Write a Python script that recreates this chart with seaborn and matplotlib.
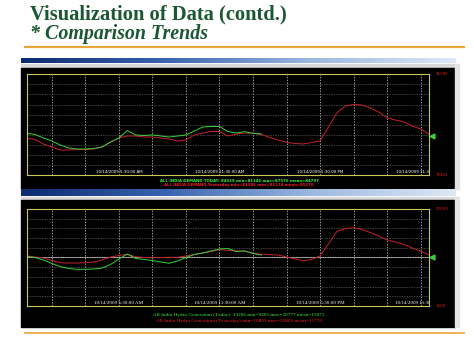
import numpy as np
import pandas as pd
import matplotlib.pyplot as plt
import seaborn as sns
from matplotlib.patches import Rectangle
from matplotlib.colors import LinearSegmentedColormap

W, H = 474, 355

# time axis: hours after midnight, 30 minute steps
hours = np.arange(49) * 0.5

# All India demand (MW)
demand_yesterday = [82700, 82470, 81570, 80980, 80380, 80380, 80480, 80480, 80580, 80980,
                    81970, 82760, 83160, 83160, 82960, 82960, 82760, 82560, 82170, 82370,
                    83360, 83750, 84050, 84050, 83160, 83560, 83750, 83690, 83460, 82860,
                    82370, 81910, 81670, 81570, 81870, 82170, 84940, 87720, 89110, 89400,
                    89310, 88710, 87920, 86730, 86330, 85940, 85140, 84550, 83500]
demand_today = [83690, 83460, 82760, 82170, 81370, 80780, 80580, 80580, 80680, 80980,
                81970, 82760, 84250, 83360, 83260, 83360, 83160, 82960, 83160, 83360,
                84150, 84940, 85040, 85040, 84050, 83750, 84010, 83690, 83560]

# All India hydro generation (MW)
hydro_yesterday = [13400, 13150, 12900, 12230, 11730, 11660, 11660, 11730, 11910, 12400,
                   13150, 13520, 13820, 13220, 13020, 12970, 13020, 13070, 13070, 13400,
                   13770, 14140, 14510, 15010, 14760, 14640, 14640, 14020, 13820, 13720,
                   13640, 13150, 12650, 12230, 12530, 13400, 16370, 19470, 20160, 20410,
                   19960, 19220, 18350, 17360, 16870, 16250, 15380, 14640, 13640]
hydro_today = [13220, 13020, 12400, 11540, 10790, 10300, 10100, 10100, 10170, 10420,
               11290, 12650, 13890, 12780, 12530, 12280, 11910, 11590, 12160, 13020,
               13770, 14140, 14640, 15130, 15250, 14510, 14640, 14060, 13640]

demand_range = (75425, 95390)
hydro_range = (1000, 25050)
demand_now = 83200
hydro_now = 13206

grid_hours = np.arange(1.5, 24, 2)
label_hours = [5.5, 11.5, 17.5, 23.5]
time_labels = ['10/14/2009 5:30:00 AM', '10/14/2009 11:30:00 AM',
               '10/14/2009 5:30:00 PM', '10/14/2009 11:30:00 PM']

demand_legend = ['ALL INDIA DEMAND TODAY: 84339 min=81146 max=87575 mean=84797',
                 'ALL INDIA DEMAND Yesterday min=81306 max=91274 mean=85276']
hydro_legend = ['All India Hydro Generation (Today): 13206 min=9205 max=20777 mean=15071',
                'All India Hydro Generation (Yesterday) min=10805 max=20803 mean=15770']

GREEN = '#3ad23a'
RED = '#c8202a'
TITLE = '#1b5832'

fig = plt.figure(figsize=(W / 100, H / 100), dpi=100)
fig.patch.set_facecolor('white')

# background axes in pixel coordinates
bg = fig.add_axes([0, 0, 1, 1])
bg.axis('off')

bar_cmap = LinearSegmentedColormap.from_list('bar', ['#0c2a70', '#3a64b0', '#9cb8e0', '#dfe8f4'])
grad = np.linspace(0, 1, 256).reshape(1, -1)


def window(y_bar, y_bar_end, y_black, y_end):
    bg.imshow(grad, extent=[21, 456, y_bar_end, y_bar], aspect='auto', cmap=bar_cmap, zorder=1)
    bg.add_patch(Rectangle((21, y_bar_end), 435, y_black - y_bar_end, color='#d8d8d8', zorder=1))
    bg.add_patch(Rectangle((21, y_black), 434, y_end - y_black, color='black', zorder=1))
    bg.add_patch(Rectangle((455, y_bar_end), 4, y_end - y_bar_end, color='#e4e4e4', zorder=1))


window(59, 63.5, 68, 188.5)
window(190, 196.5, 200, 326.5)

# slide title and rules
bg.text(30, 19, 'Visualization of Data (contd.)', family='Liberation Serif', weight='bold',
        fontsize=14.8, color=TITLE, va='baseline', ha='left')
bg.text(30, 38.5, '* Comparison Trends', family='Liberation Serif', weight='bold', style='italic',
        fontsize=14.4, color=TITLE, va='baseline', ha='left')
bg.plot([24, 465], [46.7, 46.7], color='#eba43a', lw=1.6, solid_capstyle='butt')
bg.plot([24, 465], [333, 333], color='#eba43a', lw=1.2, solid_capstyle='butt')

bg.set_xlim(0, W)
bg.set_ylim(H, 0)


def panel(top, bottom, today, yesterday, yrange, now, serif, legend, legend_y, now_line):
    x0, x1 = 26.7, 429
    ax = fig.add_axes([x0 / W, 1 - bottom / H, (x1 - x0) / W, (bottom - top) / H])
    ax.set_facecolor('black')
    lo, hi = yrange
    df_y = pd.DataFrame({'hour': hours, 'value': yesterday})
    df_t = pd.DataFrame({'hour': hours[:len(today)], 'value': today})
    sns.lineplot(data=df_y, x='hour', y='value', ax=ax, color=RED, lw=0.7)
    sns.lineplot(data=df_t, x='hour', y='value', ax=ax, color=GREEN, lw=0.7)
    if now_line:
        ax.axhline(now, color='#e8e8e8', lw=0.6, zorder=1)
    ax.set_xlim(0, 24)
    ax.set_ylim(lo, hi)
    ax.set_xticks(grid_hours)
    ax.set_yticks(np.linspace(lo, hi, 11)[1:-1])
    ax.xaxis.grid(True, color='#d8d8d8', lw=0.5, ls=(0, (2, 2)))
    ax.yaxis.grid(True, color='#5a5a5a', lw=0.5, ls=(0, (2, 1.5)))
    ax.tick_params(length=0, labelbottom=False, labelleft=False)
    ax.set_xlabel('')
    ax.set_ylabel('')
    for s in ax.spines.values():
        s.set_color('#c8c858')
        s.set_linewidth(0.8)
    fam = 'Liberation Serif' if serif else 'DejaVu Sans'
    fs = 3.6 if serif else 2.9
    for h, lab in zip(label_hours, time_labels):
        ax.text(h, lo + (hi - lo) * 0.01, lab, ha='center', va='bottom', fontsize=fs,
                family=fam, color='white', clip_on=True)
    ax.plot([24.15], [now], marker='<', color=GREEN, ms=3.5, clip_on=False)
    # right hand scale values
    bg.text(436, top, f'{hi}', color='#e02020', fontsize=fs, family=fam, ha='left', va='center')
    bg.text(436, bottom, f'{lo}', color='#e02020', fontsize=fs, family=fam, ha='left', va='center')
    lw = 'bold' if not serif else 'normal'
    lfs = 2.8 if not serif else 3.8
    bg.text(239, legend_y[0], legend[0], color='#3cf03c', fontsize=lfs, family=fam, weight=lw,
            ha='center', va='center')
    bg.text(239, legend_y[1], legend[1], color='#f02020', fontsize=lfs, family=fam, weight=lw,
            ha='center', va='center')
    return ax


panel(74.3, 175, demand_today, demand_yesterday, demand_range, demand_now, False,
      demand_legend, (180.7, 185), False)
panel(209, 306, hydro_today, hydro_yesterday, hydro_range, hydro_now, True,
      hydro_legend, (314.7, 320.7), True)

fig.savefig('out.png', dpi=100, facecolor='white')
